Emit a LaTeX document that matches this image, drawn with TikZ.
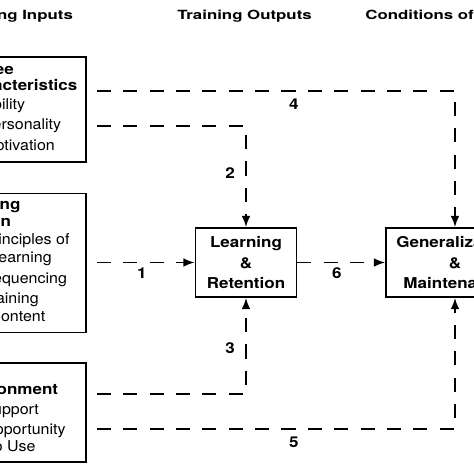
\documentclass[tikz,border=0pt]{standalone}
\usepackage{fontspec}
\setmainfont[UprightFeatures={FakeStretch=1.07}, BoldFeatures={FakeStretch=1.14}]{TeX Gyre Heros}
\newfontfamily\headfont[FakeStretch=1.33]{TeX Gyre Heros}
\usetikzlibrary{arrows.meta}
\tikzset{inbox/.style = {draw, line width=0.9pt, rectangle, minimum width=3cm, anchor=north east},
         outbox/.style = {draw, line width=0.9pt, rectangle, minimum height=1.38cm, align=center, font=\fontsize{8.5}{11.6}\selectfont\bfseries},
         intext/.style = {anchor=north west, inner sep=0pt, align=left, font=\fontsize{8.5}{11.5}\selectfont},
         head/.style = {anchor=base, inner sep=0pt, font=\headfont\fontsize{7.2}{8}\selectfont\bfseries},
         link/.style = {->, line width=1.1pt, dash pattern=on 8pt off 7pt},
         num/.style = {inner sep=2pt, font=\fontsize{8.5}{10}\selectfont\bfseries}}

\begin{document}
\begin{tikzpicture}[x=0.02cm, y=-0.02cm, >={Latex[length=6.5pt,width=5pt]}]
    \useasboundingbox (0,0) rectangle (474,474);
    \clip (0,0) rectangle (474,474);
    % headings
    \node[head, anchor=base west](hin)at(-48,19.5){Training Inputs};
    \node[head](hout)at(244.5,19.5){Training Outputs};
    \node[head](hcond)at(455,19.5){Conditions of Transfer};
    % input boxes
    \node[inbox, minimum height=2.1cm](trainee)at(87,56){};
    \node[inbox, minimum height=2.78cm](design)at(87,192.7){};
    \node[inbox, minimum height=1.98cm](work)at(87,362){};
    \node[intext](traineetxt)at(-46,62.6){\textbf{Trainee}\\[-2.4pt]\textbf{Characteristics}\\[-0.7pt]\hspace*{16pt}Ability\\[0.4pt]\hspace*{16pt}Personality\\\hspace*{16pt}Motivation};
    \node[intext](designtxt)at(-46,198.3){\textbf{Training}\\[-2.1pt]\textbf{Design}\\[-1.1pt]\hspace*{16pt}Principles of\\[-1.1pt]\hspace*{20pt}Learning\\[0.4pt]\hspace*{16pt}Sequencing\\\hspace*{16pt}Training\\[-1.7pt]\hspace*{20pt}Content};
    \node[intext](worktxt)at(-46,382.6){\textbf{Environment}\\\hspace*{16pt}Support\\\hspace*{16pt}Opportunity\\[-1.9pt]\hspace*{20pt}to Use};
    % outputs and transfer
    \node[outbox, minimum width=2.02cm](learn)at(246,262.5){Learning\\\&\\Retention};
    \node[outbox, minimum width=2.76cm](gen)at(455,262.5){Generalization\\\&\\Maintenance};
    % links
    \coordinate(o1)at(97,262.5);
    \coordinate(o2)at(97,126);
    \coordinate(o3)at(97,394);
    \coordinate(o4)at(97,91);
    \coordinate(o5)at(97,429);
    \draw[link](o1)--node[num, below=0.3pt, pos=0.46]{1}(learn.west);
    \draw[link](learn.east)--node[num, below=0.3pt, pos=0.45]{6}(gen.west);
    \draw[link](o2)-|node[num, left=3.8pt, pos=0.735]{2}(learn.north);
    \draw[link](o3)-|node[num, left=3.8pt, pos=0.737]{3}(learn.south);
    \draw[link](o4)-|node[num, below=2pt, pos=0.275]{4}(gen.north);
    \draw[link](o5)-|node[num, below=2pt, pos=0.275]{5}(gen.south);
\end{tikzpicture}
\end{document}
